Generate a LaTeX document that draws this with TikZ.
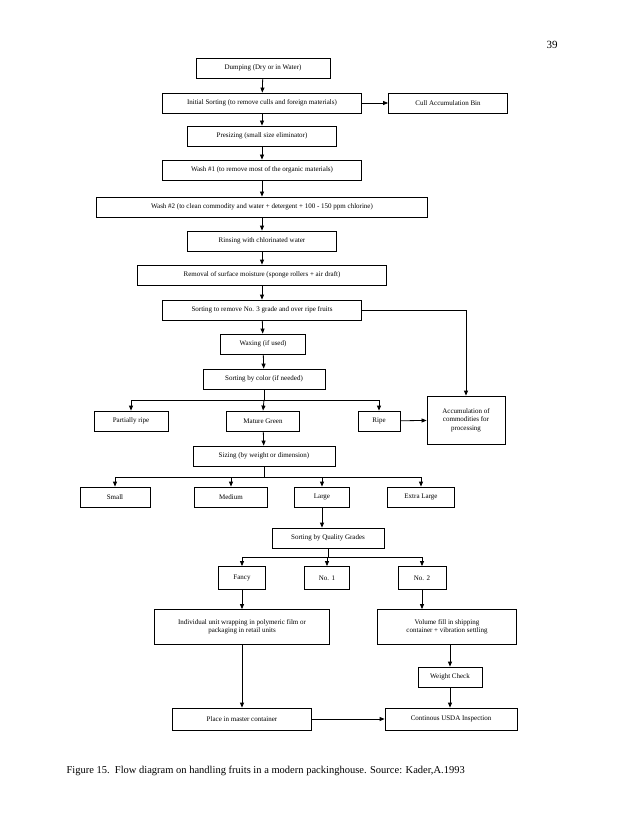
\documentclass[tikz,border=0pt]{standalone}
\usepackage{fontspec}
\setmainfont{Liberation Serif}
\usetikzlibrary{arrows.meta}
\begin{document}
\begin{tikzpicture}[x=1pt,y=-1pt,
  box/.style={draw,thick,minimum height=20pt,inner sep=1pt,font=\fontsize{7}{8.5}\selectfont,align=center},
  arr/.style={-{Triangle[length=5pt,width=4pt]},thick},
  ln/.style={thick}]
\useasboundingbox (0,0) rectangle (638,826);
\node[font=\fontsize{11}{12}\selectfont] (pg) at (552,45) {39};
\node[box,minimum width=134pt] (n1) at (263,68) {Dumping (Dry or in Water)};
\node[box,minimum width=199pt] (n2) at (262,103) {Initial Sorting (to remove culls and foreign materials)};
\node[box,minimum width=119pt] (cull) at (448,103) {Cull Accumulation Bin};
\node[box,minimum width=149pt] (n3) at (262,136) {Presizing (small size eliminator)};
\node[box,minimum width=199pt] (n4) at (262,170) {Wash \#1 (to remove most of the organic materials)};
\node[box,minimum width=331pt] (n5) at (262,207) {Wash \#2 (to clean commodity and water + detergent + 100 - 150 ppm chlorine)};
\node[box,minimum width=149pt] (n6) at (262,241) {Rinsing with chlorinated water};
\node[box,minimum width=249pt] (n7) at (262,275) {Removal of surface moisture (sponge rollers + air draft)};
\node[box,minimum width=199pt] (n8) at (262,310) {Sorting to remove No. 3 grade and over ripe fruits};
\node[box,minimum width=85pt] (n9) at (263,344) {Waxing (if used)};
\node[box,minimum width=122pt] (n10) at (264,379) {Sorting by color (if needed)};
\node[box,minimum width=74pt] (pr) at (131,421) {Partially ripe};
\node[box,minimum width=73pt] (mg) at (263,421) {Mature Green};
\node[box,minimum width=42pt] (ri) at (379,421) {Ripe};
\node[box,minimum width=78pt,minimum height=48pt] (acc) at (466,420) {Accumulation of\\commodities for\\processing};
\node[box,minimum width=142pt] (sz) at (264,456) {Sizing (by weight or dimension)};
\node[box,minimum width=70pt] (sm) at (115,497) {Small};
\node[box,minimum width=73pt] (md) at (231,497) {Medium};
\node[box,minimum width=55pt] (lg) at (322,497) {Large};
\node[box,minimum width=67pt] (xl) at (421,497) {Extra Large};
\node[box,minimum width=112pt] (qg) at (328,538) {Sorting by Quality Grades};
\node[box,minimum width=47pt,minimum height=23pt] (fa) at (242,578) {Fancy};
\node[box,minimum width=45pt,minimum height=23pt] (no1) at (327,578) {No. 1};
\node[box,minimum width=48pt,minimum height=23pt] (no2) at (422,578) {No. 2};
\node[box,minimum width=175pt,minimum height=35pt] (ind) at (242,627) {Individual unit wrapping in polymeric film or\\packaging in retail units};
\node[box,minimum width=139pt,minimum height=35pt] (vol) at (447,627) {Volume fill in shipping\\container + vibration settling};
\node[box,minimum width=64pt] (wc) at (450,677) {Weight Check};
\node[box,minimum width=139pt,minimum height=22pt] (pl) at (242,719) {Place in master container};
\node[box,minimum width=132pt,minimum height=22pt] (us) at (451,719) {Continous USDA Inspection};
\node[font=\fontsize{10.5}{12}\selectfont,anchor=west] (cap) at (63,771) {Figure 15.\ \ Flow diagram on handling fruits in a modern packinghouse. Source: Kader,A.1993};
\draw[arr] (n1) -- (n2);
\draw[arr] (n2) -- (cull);
\draw[arr] (n2) -- (n3);
\draw[arr] (n3) -- (n4);
\draw[arr] (n4) -- (n5);
\draw[arr] (n5) -- (n6);
\draw[arr] (n6) -- (n7);
\draw[arr] (n7) -- (n8);
\draw[arr] (n8) -- (n9);
\draw[arr] (n9) -- (n10);
\draw[arr] (n8.east) -| (acc.north);
\coordinate (b1) at (264,400);
\draw[ln] (n10.south) -- (b1);
\draw[arr] (b1) -| (pr.north);
\draw[arr] (b1) -| (ri.north);
\draw[arr] (b1) -- (mg.north);
\draw[arr] (ri) -- (acc);
\draw[arr] (mg) -- (sz);
\coordinate (b2) at (264,477);
\draw[ln] (sz.south) -- (b2);
\draw[arr] (b2) -| (sm.north);
\draw[arr] (b2) -| (md.north);
\draw[arr] (b2) -| (lg.north);
\draw[arr] (b2) -| (xl.north);
\draw[arr] (lg.south) -- (lg.south |- qg.north);
\coordinate (b3) at (328,557);
\draw[ln] (qg.south) -- (b3);
\draw[arr] (b3) -| (fa.north);
\draw[arr] (b3) -| (no2.north);
\draw[arr] (b3) -| (no1.north);
\draw[arr] (fa) -- (ind);
\draw[arr] (no2.south) -- (no2.south |- vol.north);
\draw[arr] (wc.north |- vol.south) -- (wc.north);
\draw[arr] (wc.south) -- (wc.south |- us.north);
\draw[arr] (ind) -- (pl);
\draw[arr] (pl) -- (us);
\end{tikzpicture}
\end{document}
